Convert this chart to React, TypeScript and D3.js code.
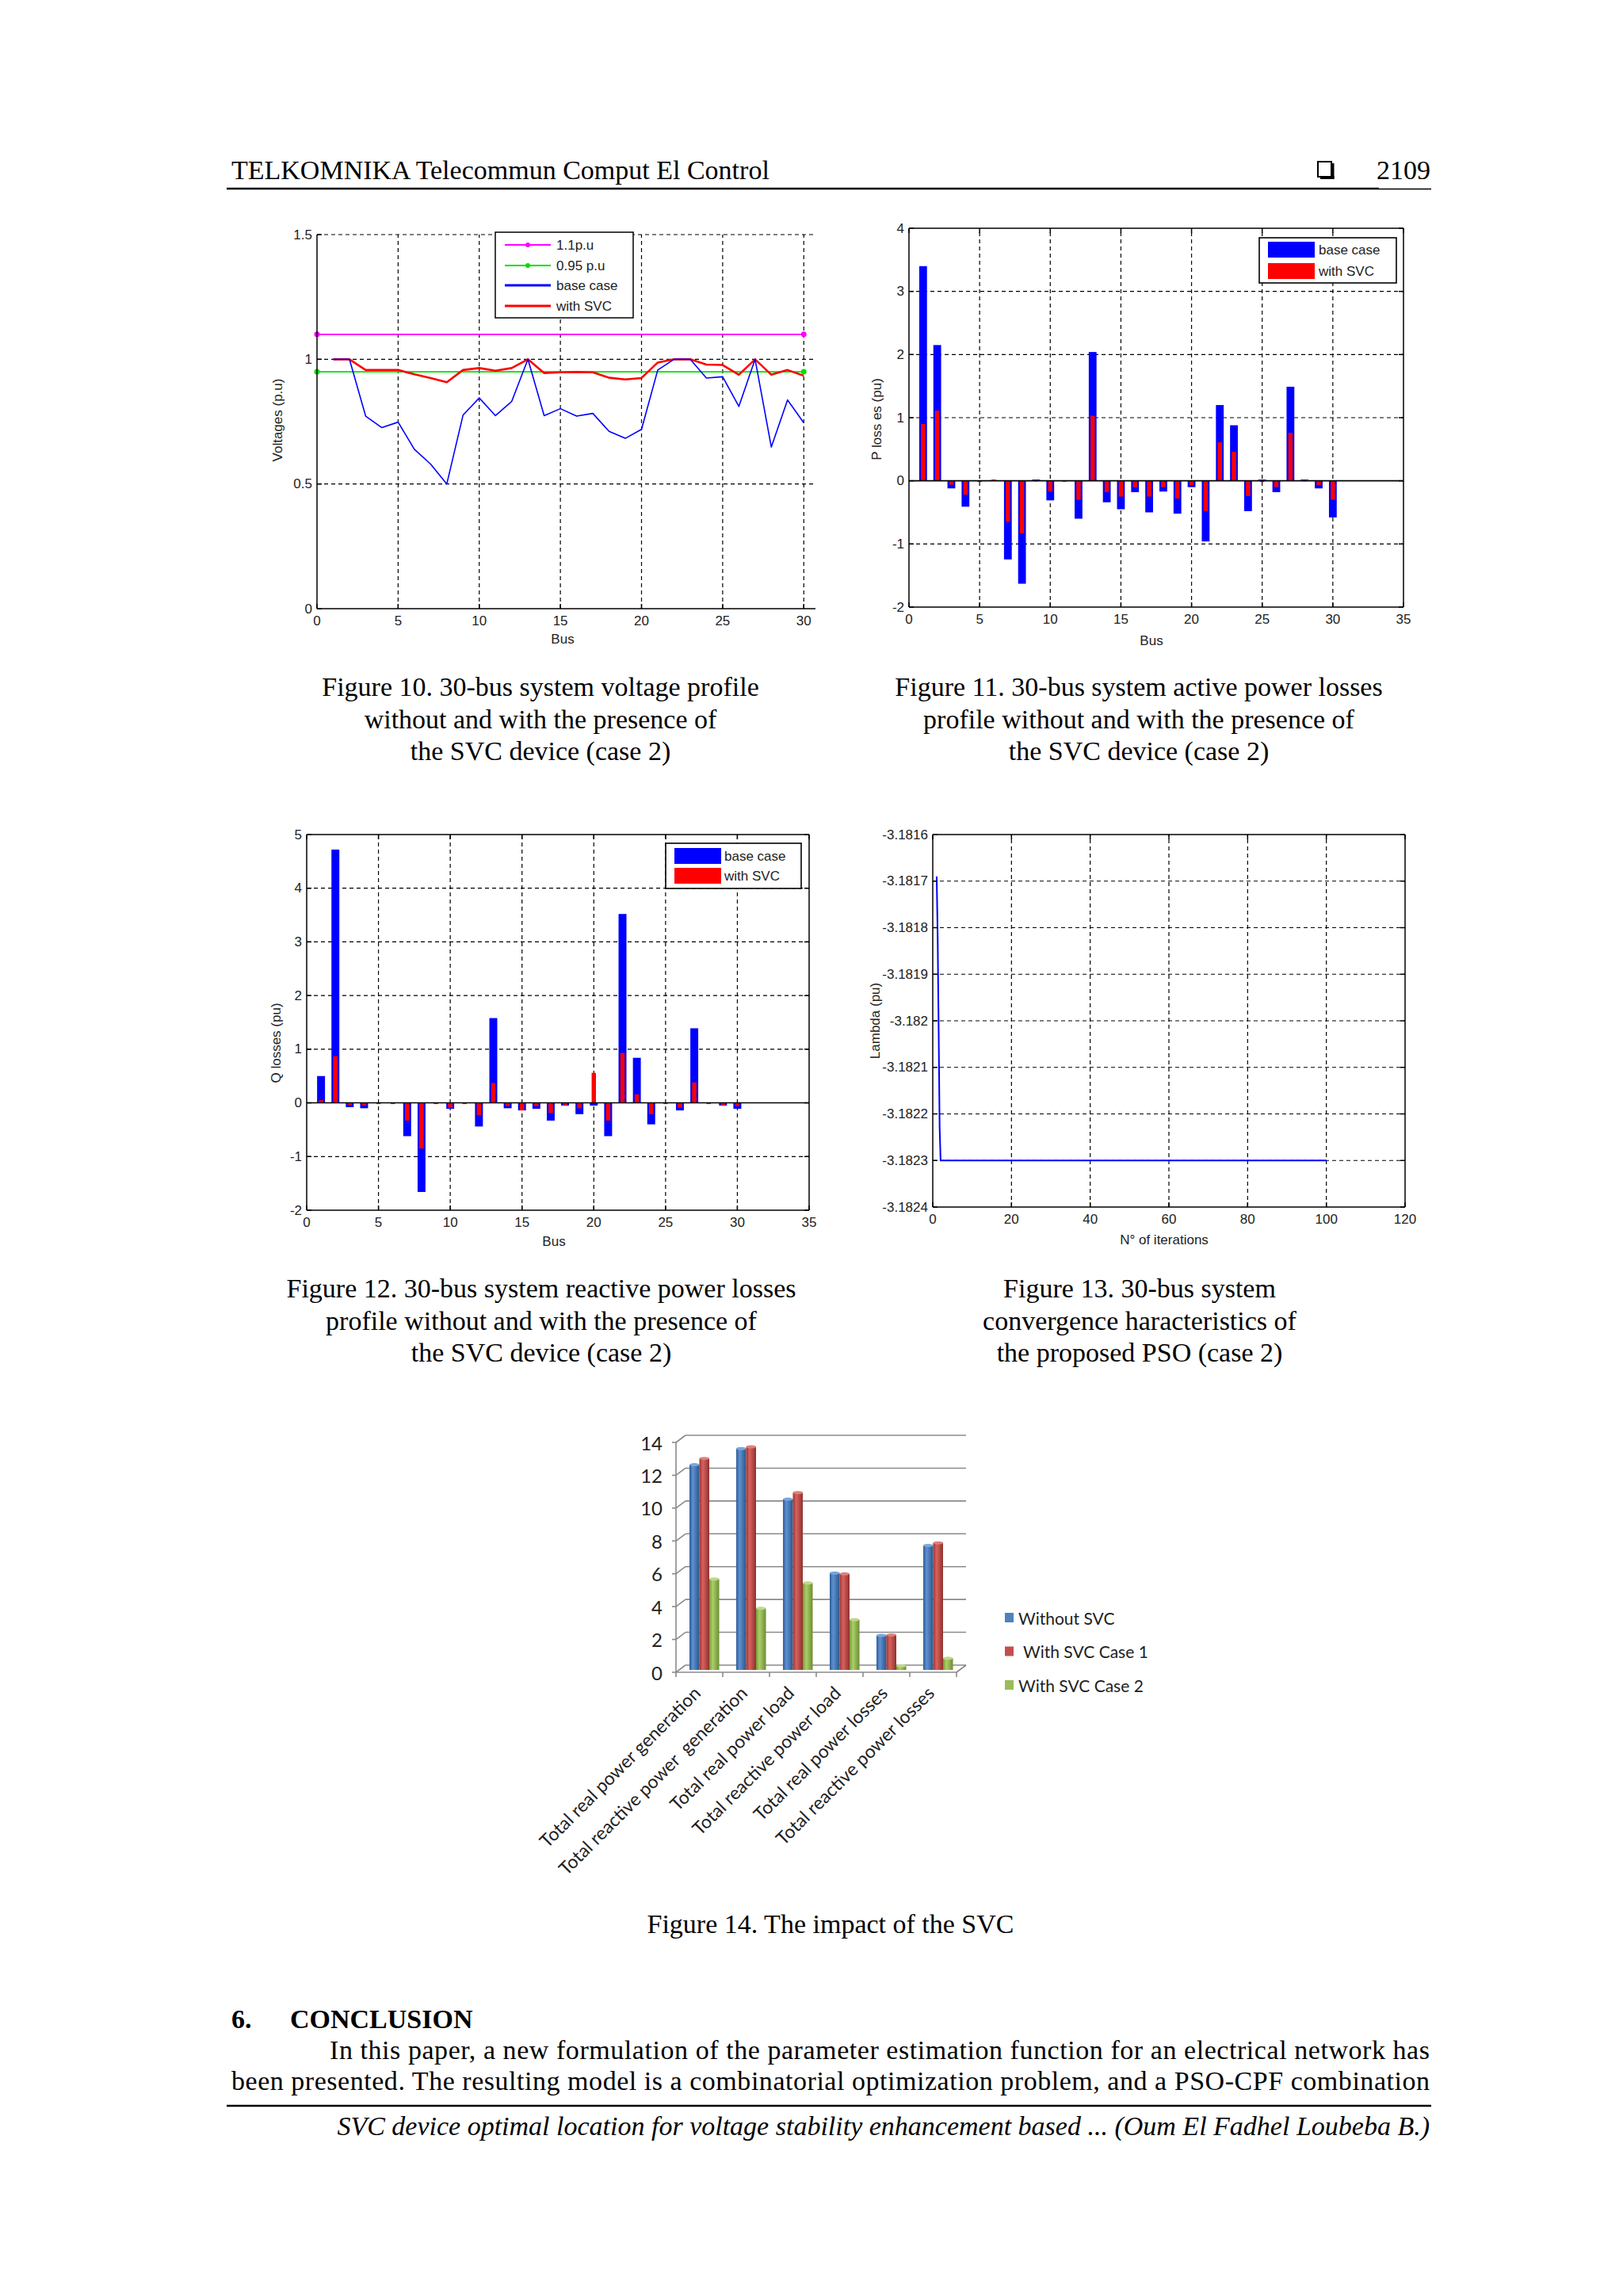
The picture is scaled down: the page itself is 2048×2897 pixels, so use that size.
import React from "react";
import * as d3 from "d3";

// ---------------- DATA ----------------
const buses = [1, 2, 3, 4, 5, 6, 7, 8, 9, 10, 11, 12, 13, 14, 15, 16, 17, 18, 19, 20, 21, 22, 23, 24, 25, 26, 27, 28, 29, 30];

const voltageBase = [1.0, 1.0, 0.772, 0.726, 0.748, 0.639, 0.58, 0.5, 0.776, 0.845, 0.774, 0.831, 1.0, 0.774, 0.802, 0.772, 0.783, 0.711, 0.683, 0.719, 0.957, 1.0, 1.0, 0.925, 0.93, 0.811, 1.0, 0.648, 0.837, 0.745];
const voltageSVC = [1.0, 1.0, 0.957, 0.957, 0.957, 0.94, 0.925, 0.908, 0.957, 0.965, 0.954, 0.965, 1.0, 0.945, 0.948, 0.949, 0.948, 0.926, 0.919, 0.925, 0.987, 1.0, 1.0, 0.979, 0.977, 0.938, 1.0, 0.938, 0.957, 0.934];
const limitX = [0, 30];
const limitHigh = [1.1, 1.1];
const limitLow = [0.95, 0.95];
const voltageLegend = ["1.1p.u", "0.95 p.u", "base case", "with SVC"];

const pLossBase = [3.4, 2.15, -0.12, -0.41, 0, 0.01, -1.245, -1.63, 0.02, -0.31, 0, -0.6, 2.04, -0.34, -0.45, -0.18, -0.5, -0.17, -0.52, -0.1, -0.96, 1.2, 0.88, -0.48, 0.02, -0.18, 1.49, 0.02, -0.12, -0.58];
const pLossSVC = [0.9, 1.11, -0.06, -0.22, -0.01, 0.02, -0.65, -0.83, 0.01, -0.17, 0.005, -0.3, 1.03, -0.18, -0.25, -0.1, -0.25, -0.1, -0.28, -0.07, -0.48, 0.61, 0.46, -0.24, 0, -0.1, 0.76, 0.01, -0.07, -0.3];

const qLossBase = [0.5, 4.72, -0.08, -0.1, 0, 0, -0.62, -1.66, 0, -0.11, 0, -0.44, 1.58, -0.1, -0.14, -0.11, -0.33, -0.05, -0.21, -0.05, -0.62, 3.52, 0.84, -0.4, 0, -0.14, 1.39, 0, -0.05, -0.11];
const qLossSVC = [0.05, 0.87, -0.04, -0.05, 0, 0, -0.33, -0.85, 0, -0.09, 0, -0.23, 0.37, -0.06, -0.14, -0.06, -0.19, -0.04, -0.1, 0.56, -0.33, 0.93, 0.16, -0.21, 0, -0.09, 0.38, 0, -0.04, -0.06];
const lossLegend = ["base case", "with SVC"];

const iterations = [1, 1.25, 1.5, 1.75, 2, 100];
const lambdaValues = [-3.18169, -3.18182, -3.18202, -3.18223, -3.1823, -3.1823];
const lambdaTicks = [-3.1824, -3.1823, -3.1822, -3.1821, -3.182, -3.1819, -3.1818, -3.1817, -3.1816];
const lambdaTickLabels = ["-3.1824", "-3.1823", "-3.1822", "-3.1821", "-3.182", "-3.1819", "-3.1818", "-3.1817", "-3.1816"];
const iterTicks = [0, 20, 40, 60, 80, 100, 120];

const impactCategories = [
  "Total real power generation",
  "Total reactive power  generation",
  "Total real power load",
  "Total reactive power load",
  "Total real power losses",
  "Total reactive power losses",
];
const withoutSVC = [12.5, 13.48, 10.4, 5.9, 2.1, 7.58];
const withSVCCase1 = [12.88, 13.59, 10.8, 5.85, 2.13, 7.74];
const withSVCCase2 = [5.54, 3.75, 5.3, 3.06, 0.25, 0.71];
const impactSeries = ["Without SVC", "With SVC Case 1", "With SVC Case 2"];
const impactTicks = [0, 2, 4, 6, 8, 10, 12, 14];

// ---------------- STYLE ----------------
const SERIF = "'Liberation Serif', 'Times New Roman', serif";
const SANS = "'Liberation Sans', Arial, sans-serif";
const CAL = "Lato, 'Open Sans', sans-serif";
const TICK_FS = 17;

function Grid({ xs, ys, xGrid, yGrid }: any) {
  const [x0, x1] = xs.range();
  const [y0, y1] = ys.range();
  return (
    <g stroke="#000" strokeWidth={1.2} strokeDasharray="5 4" fill="none">
      {xGrid.map((v: number, i: number) => (
        <line key={"gx" + i} x1={xs(v)} x2={xs(v)} y1={y0} y2={y1} />
      ))}
      {yGrid.map((v: number, i: number) => (
        <line key={"gy" + i} x1={x0} x2={x1} y1={ys(v)} y2={ys(v)} />
      ))}
    </g>
  );
}

function Frame({ xs, ys, xTicks, yTicks, xLabels, yLabels, box }: any) {
  const [x0, x1] = xs.range();
  const [y0, y1] = ys.range();
  const tl = 6;
  return (
    <g>
      <g stroke="#000" strokeWidth={1.5}>
        <line x1={x0} x2={x0} y1={y0} y2={y1} />
        <line x1={x0} x2={x1} y1={y0} y2={y0} />
        {box && <line x1={x0} x2={x1} y1={y1} y2={y1} />}
        {box && <line x1={x1} x2={x1} y1={y0} y2={y1} />}
        {xTicks.map((v: number, i: number) => (
          <line key={"tx" + i} x1={xs(v)} x2={xs(v)} y1={y0} y2={y0 - tl} />
        ))}
        {box && xTicks.map((v: number, i: number) => (
          <line key={"ttx" + i} x1={xs(v)} x2={xs(v)} y1={y1} y2={y1 + tl} />
        ))}
        {yTicks.map((v: number, i: number) => (
          <line key={"ty" + i} x1={x0} x2={x0 + tl} y1={ys(v)} y2={ys(v)} />
        ))}
        {box && yTicks.map((v: number, i: number) => (
          <line key={"tty" + i} x1={x1} x2={x1 - tl} y1={ys(v)} y2={ys(v)} />
        ))}
      </g>
      <g fontFamily={SANS} fontSize={TICK_FS} fill="#222">
        {xTicks.map((v: number, i: number) => (
          <text key={"lx" + i} x={xs(v)} y={y0 + 21} textAnchor="middle">
            {xLabels ? xLabels[i] : String(v)}
          </text>
        ))}
        {yTicks.map((v: number, i: number) => (
          <text key={"ly" + i} x={x0 - 6} y={ys(v)} textAnchor="end" dominantBaseline="central">
            {yLabels ? yLabels[i] : String(v)}
          </text>
        ))}
      </g>
    </g>
  );
}

function AxisTitles({ xLabel, xPos, yLabel, yPos }: any) {
  return (
    <g fontFamily={SANS} fontSize={TICK_FS} fill="#222">
      <text x={xPos[0]} y={xPos[1]} textAnchor="middle" dominantBaseline="central">{xLabel}</text>
      <text transform={`translate(${yPos[0]},${yPos[1]}) rotate(-90)`} textAnchor="middle" dominantBaseline="central">
        {yLabel}
      </text>
    </g>
  );
}

// ---------- Figure 10 ----------
function VoltageChart() {
  const xs = d3.scaleLinear().domain([0, 30.72]).range([400, 1029]);
  const ys = d3.scaleLinear().domain([0, 1.5]).range([768, 296]);
  const line = d3.line<number>().x((_, i) => xs(buses[i])).y((d) => ys(d));
  const limLine = d3.line<number>().x((_, i) => xs(limitX[i])).y((d) => ys(d));
  const lg = { x0: 625, x1: 799, y0: 293, y1: 401 };
  const rows = [309, 335, 360, 386];
  const colors = ["#ff00ff", "#00e000", "#0000ff", "#ff0000"];
  return (
    <g>
      <Grid xs={xs} ys={ys} xGrid={[5, 10, 15, 20, 25, 30]} yGrid={[0.5, 1, 1.5]} />
      <path d={limLine(limitHigh) || ""} stroke="#ff00ff" strokeWidth={1.8} fill="none" />
      <path d={limLine(limitLow) || ""} stroke="#00e000" strokeWidth={1.8} fill="none" />
      {limitX.map((x, i) => (
        <g key={"m" + i}>
          <circle cx={xs(x)} cy={ys(limitHigh[i])} r={3.5} fill="#ff00ff" />
          <circle cx={xs(x)} cy={ys(limitLow[i])} r={3.5} fill="#00e000" />
        </g>
      ))}
      <path d={line(voltageSVC) || ""} stroke="#ff0000" strokeWidth={2.6} fill="none" strokeLinejoin="round" />
      <path d={line(voltageBase) || ""} stroke="#0000ff" strokeWidth={1.6} fill="none" strokeLinejoin="round" />
      <Frame xs={xs} ys={ys} xTicks={[0, 5, 10, 15, 20, 25, 30]} yTicks={[0, 0.5, 1, 1.5]} box={false} />
      <AxisTitles xLabel="Bus" xPos={[710, 806]} yLabel="Voltages (p.u)" yPos={[350, 530]} />
      <rect x={lg.x0} y={lg.y0} width={lg.x1 - lg.x0} height={lg.y1 - lg.y0} fill="#fff" stroke="#000" strokeWidth={1.5} />
      {voltageLegend.map((name, i) => (
        <g key={name}>
          <line x1={637} x2={695} y1={rows[i]} y2={rows[i]} stroke={colors[i]} strokeWidth={i < 2 ? 1.8 : 3} />
          {i < 2 && <circle cx={666} cy={rows[i]} r={3} fill={colors[i]} />}
          <text x={702} y={rows[i]} dominantBaseline="central" fontFamily={SANS} fontSize={TICK_FS} fill="#222">
            {name}
          </text>
        </g>
      ))}
    </g>
  );
}

// ---------- Bar chart (Fig 11, 12) ----------
function LossChart({ xs, ys, base, svc, yTicks, yLabel, yPos, xPos, legend }: any) {
  const wB = 0.55, wR = 0.3;
  const yz = ys(0);
  const [x0, x1] = xs.range();
  return (
    <g>
      <Grid xs={xs} ys={ys} xGrid={[5, 10, 15, 20, 25, 30]} yGrid={yTicks.slice(1, -1).filter((v: number) => v !== 0)} />
      {base.map((v: number, i: number) => (
        <rect key={"b" + i} x={xs(buses[i] - wB / 2)} width={xs(wB) - xs(0)} y={Math.min(ys(v), yz)} height={Math.abs(ys(v) - yz)} fill="#0000ff" />
      ))}
      {svc.map((v: number, i: number) => (
        <rect key={"r" + i} x={xs(buses[i] - wR / 2)} width={xs(wR) - xs(0)} y={Math.min(ys(v), yz)} height={Math.max(Math.abs(ys(v) - yz), 1.5)} fill="#ff0000" />
      ))}
      <line x1={x0} x2={x1} y1={yz} y2={yz} stroke="#000" strokeWidth={1.6} />
      <Frame xs={xs} ys={ys} xTicks={[0, 5, 10, 15, 20, 25, 30, 35]} yTicks={yTicks} box={true} />
      <AxisTitles xLabel="Bus" xPos={xPos} yLabel={yLabel} yPos={yPos} />
      <rect x={legend.x0} y={legend.y0} width={legend.x1 - legend.x0} height={legend.y1 - legend.y0} fill="#fff" stroke="#000" strokeWidth={1.6} />
      {lossLegend.map((name, i) => (
        <g key={name}>
          <rect x={legend.sx0} width={legend.sx1 - legend.sx0} y={legend.rows[i] - 10} height={20} fill={i === 0 ? "#0000ff" : "#ff0000"} />
          <text x={legend.tx} y={legend.rows[i]} dominantBaseline="central" fontFamily={SANS} fontSize={TICK_FS} fill="#222">
            {name}
          </text>
        </g>
      ))}
    </g>
  );
}

// ---------- Figure 13 ----------
function LambdaChart() {
  const xs = d3.scaleLinear().domain([0, 120]).range([1177, 1773]);
  const ys = d3.scaleLinear().domain([-3.1824, -3.1816]).range([1523, 1053]);
  const line = d3.line<number>().x((_, i) => xs(iterations[i])).y((d) => ys(d));
  return (
    <g>
      <Grid xs={xs} ys={ys} xGrid={[20, 40, 60, 80, 100]} yGrid={lambdaTicks.slice(1, -1)} />
      <path d={line(lambdaValues) || ""} stroke="#0000ff" strokeWidth={2} fill="none" />
      <Frame xs={xs} ys={ys} xTicks={iterTicks} yTicks={lambdaTicks} yLabels={lambdaTickLabels} box={true} />
      <AxisTitles xLabel="N° of iterations" xPos={[1469, 1564]} yLabel="Lambda (pu)" yPos={[1104, 1288]} />
    </g>
  );
}

// ---------- Figure 14 ----------
function ImpactChart() {
  const fx0 = 853, fx1 = 1207, fy0 = 2110;
  const dx = 12, dy = -9;
  const yF = d3.scaleLinear().domain([0, 14]).range([fy0, 1820]);
  const yBar = d3.scaleLinear().domain([0, 14]).range([2107, 1817]);
  const band = d3.scaleBand<string>().domain(impactCategories).range([fx0, fx1]);
  const step = band.step();
  const bw = 12.5;
  const series = [withoutSVC, withSVCCase1, withSVCCase2];
  const grads = ["gBlue", "gRed", "gGreen"];
  const caps = ["#7aa6dc", "#e07f7c", "#bcd98a"];
  const legendColors = ["#4f81bd", "#c0504d", "#9bbb59"];
  const gc = "#8a8a8a";
  return (
    <g>
      <defs>
        <linearGradient id="gBlue" x1="0" x2="1" y1="0" y2="0">
          <stop offset="0" stopColor="#2f5d98" />
          <stop offset="0.35" stopColor="#5d91d2" />
          <stop offset="1" stopColor="#2c558a" />
        </linearGradient>
        <linearGradient id="gRed" x1="0" x2="1" y1="0" y2="0">
          <stop offset="0" stopColor="#9c3532" />
          <stop offset="0.35" stopColor="#d8625e" />
          <stop offset="1" stopColor="#8e312e" />
        </linearGradient>
        <linearGradient id="gGreen" x1="0" x2="1" y1="0" y2="0">
          <stop offset="0" stopColor="#789a3a" />
          <stop offset="0.35" stopColor="#abcf68" />
          <stop offset="1" stopColor="#6e8c34" />
        </linearGradient>
      </defs>
      {/* back wall gridlines + side diagonals */}
      <g stroke={gc} strokeWidth={1.6} fill="none">
        {impactTicks.map((v) => (
          <g key={"g" + v}>
            <line x1={fx0 + dx} x2={fx1 + dx} y1={yF(v) + dy} y2={yF(v) + dy} />
            <line x1={fx0} x2={fx0 + dx} y1={yF(v)} y2={yF(v) + dy} />
            <line x1={fx0 - 5} x2={fx0} y1={yF(v)} y2={yF(v)} />
          </g>
        ))}
        <line x1={fx0} x2={fx0} y1={yF(0)} y2={yF(14)} />
        <line x1={fx0} x2={fx1} y1={fy0} y2={fy0} />
        <line x1={fx1} x2={fx1 + dx} y1={fy0} y2={fy0 + dy} />
        {d3.range(impactCategories.length + 1).map((i) => (
          <line key={"xt" + i} x1={fx0 + i * step} x2={fx0 + i * step} y1={fy0} y2={fy0 + 6} />
        ))}
      </g>
      {/* bars */}
      {impactCategories.map((c, ci) => (
        <g key={c}>
          {series.map((s, si) => {
            const x = (band(c) as number) + 17 + si * bw;
            const top = yBar(s[ci]);
            return (
              <g key={si}>
                <rect x={x} y={top} width={bw} height={yBar(0) - top} fill={`url(#${grads[si]})`} />
                <ellipse cx={x + bw / 2} cy={top} rx={bw / 2} ry={2} fill={caps[si]} />
              </g>
            );
          })}
        </g>
      ))}
      {/* y tick labels */}
      <g fontFamily={CAL} fontSize={24} fill="#222">
        {impactTicks.map((v) => (
          <text key={"yl" + v} x={836} y={yF(v)} textAnchor="end" dominantBaseline="central">
            {v}
          </text>
        ))}
      </g>
      {/* category labels */}
      <g fontFamily={CAL} fontSize={23} fill="#222">
        {impactCategories.map((c) => (
          <text
            key={"cl" + c}
            transform={`translate(${(band(c) as number) + step / 2 + 3},${2138}) rotate(-45)`}
            textAnchor="end"
            style={{ whiteSpace: "pre" }}
          >
            {c}
          </text>
        ))}
      </g>
      {/* legend */}
      <g fontFamily={CAL} fontSize={21} fill="#222">
        {impactSeries.map((name, i) => {
          const cy = 2041 + i * 42.5;
          return (
            <g key={name}>
              <rect x={1268} y={cy - 6} width={11} height={12} fill={legendColors[i]} />
              <text x={i === 1 ? 1291 : 1285} y={cy} dominantBaseline="central">
                {name}
              </text>
            </g>
          );
        })}
      </g>
    </g>
  );
}

function Caption({ lines, cx, y0 }: { lines: string[]; cx: number; y0: number }) {
  return (
    <g fontFamily={SERIF} fontSize={34} fill="#000">
      {lines.map((l, i) => (
        <text key={i} x={cx} y={y0 + i * 40.5} textAnchor="middle">
          {l}
        </text>
      ))}
    </g>
  );
}

export default function App() {
  const p11 = {
    xs: d3.scaleLinear().domain([0, 35]).range([1147, 1771]),
    ys: d3.scaleLinear().domain([-2, 4]).range([766, 288]),
  };
  const p12 = {
    xs: d3.scaleLinear().domain([0, 35]).range([387, 1021]),
    ys: d3.scaleLinear().domain([-2, 5]).range([1527, 1053]),
  };
  return (
    <svg width={2048} height={2897} viewBox="0 0 2048 2897" style={{ position: "absolute", left: 0, top: 0, background: "#fff" }}>
      <rect x={0} y={0} width={2048} height={2897} fill="#fff" />
      {/* header */}
      <text x={292} y={226} fontFamily={SERIF} fontSize={34} fill="#000">
        TELKOMNIKA Telecommun Comput El Control
      </text>
      <g>
        <rect x={1663} y={204} width={17} height={19} fill="#fff" stroke="#000" strokeWidth={2} />
        <rect x={1679} y={206} width={4.5} height={20} fill="#000" />
        <rect x={1666} y={222} width={17.5} height={4} fill="#000" />
      </g>
      <text x={1805} y={226} textAnchor="end" fontFamily={SERIF} fontSize={34} fill="#000">
        2109
      </text>
      <line x1={286} x2={1740} y1={238} y2={238} stroke="#000" strokeWidth={2.6} />
      <line x1={1740} x2={1806} y1={238.5} y2={238.5} stroke="#000" strokeWidth={1.4} />

      <VoltageChart />
      <LossChart
        xs={p11.xs}
        ys={p11.ys}
        base={pLossBase}
        svc={pLossSVC}
        yTicks={[-2, -1, 0, 1, 2, 3, 4]}
        yLabel="P loss es (pu)"
        yPos={[1106, 529]}
        xPos={[1453, 808]}
        legend={{ x0: 1589, x1: 1762, y0: 300, y1: 357, sx0: 1600, sx1: 1659, tx: 1664, rows: [315, 342] }}
      />
      <LossChart
        xs={p12.xs}
        ys={p12.ys}
        base={qLossBase}
        svc={qLossSVC}
        yTicks={[-2, -1, 0, 1, 2, 3, 4, 5]}
        yLabel="Q losses (pu)"
        yPos={[348, 1316]}
        xPos={[699, 1566]}
        legend={{ x0: 840, x1: 1011, y0: 1064, y1: 1121, sx0: 851, sx1: 910, tx: 914, rows: [1080, 1105] }}
      />
      <LambdaChart />
      <ImpactChart />

      <Caption lines={["Figure 10. 30-bus system voltage profile", "without and with the presence of", "the SVC device (case 2)"]} cx={682} y0={878} />
      <Caption lines={["Figure 11. 30-bus system active power losses", "profile without and with the presence of", "the SVC device (case 2)"]} cx={1437} y0={878} />
      <Caption lines={["Figure 12. 30-bus system reactive power losses", "profile without and with the presence of", "the SVC device (case 2)"]} cx={683} y0={1637} />
      <Caption lines={["Figure 13. 30-bus system", "convergence haracteristics of", "the proposed PSO (case 2)"]} cx={1438} y0={1637} />
      <Caption lines={["Figure 14. The impact of the SVC"]} cx={1048} y0={2439} />

      {/* conclusion */}
      <g fontFamily={SERIF} fontSize={34} fill="#000">
        <text x={292} y={2559} fontWeight="bold">6.</text>
        <text x={366} y={2559} fontWeight="bold">CONCLUSION</text>
        <text x={416} y={2598} textLength={1388} lengthAdjust="spacing">
          In this paper, a new formulation of the parameter estimation function for an electrical network has
        </text>
        <text x={292} y={2637} textLength={1512} lengthAdjust="spacing">
          been presented. The resulting model is a combinatorial optimization problem, and a PSO-CPF combination
        </text>
      </g>
      <line x1={286} x2={1806} y1={2657} y2={2657} stroke="#000" strokeWidth={2.6} />
      <text x={1804} y={2694} textAnchor="end" fontFamily={SERIF} fontStyle="italic" fontSize={34} fill="#000">
        SVC device optimal location for voltage stability enhancement based ... (Oum El Fadhel Loubeba B.)
      </text>
    </svg>
  );
}
